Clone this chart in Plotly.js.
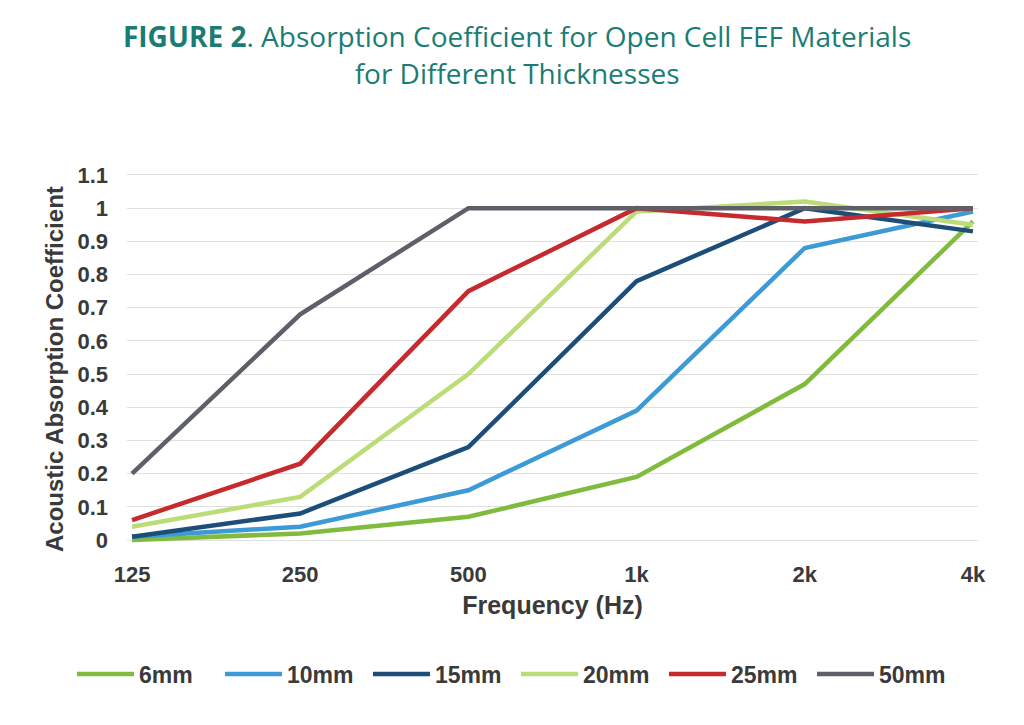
<!DOCTYPE html>
<html>
<head>
<meta charset="utf-8">
<script src="https://cdn.plot.ly/plotly-3.0.1.min.js"></script>
<style>
  html, body { margin: 0; padding: 0; background: #fff; }
  #chart { width: 1024px; height: 725px; }
</style>
</head>
<body>
<div id="chart"></div>
<script>
const frequencies = ["125", "250", "500", "1k", "2k", "4k"];

const thicknesses = ["6mm", "10mm", "15mm", "20mm", "25mm", "50mm"];

const abs6mm  = [0.00, 0.02, 0.07, 0.19, 0.47, 0.96];
const abs10mm = [0.01, 0.04, 0.15, 0.39, 0.88, 0.99];
const abs15mm = [0.01, 0.08, 0.28, 0.78, 1.00, 0.93];
const abs20mm = [0.04, 0.13, 0.50, 0.99, 1.02, 0.95];
const abs25mm = [0.06, 0.23, 0.75, 1.00, 0.96, 1.00];
const abs50mm = [0.20, 0.68, 1.00, 1.00, 1.00, 1.00];

const yTicks = [0, 0.1, 0.2, 0.3, 0.4, 0.5, 0.6, 0.7, 0.8, 0.9, 1, 1.1];

const series = [abs6mm, abs10mm, abs15mm, abs20mm, abs25mm, abs50mm];
const colors = ["#80bb3d", "#3c9ad6", "#1d4e7a", "#bcdc78", "#c62a2e", "#5e6069"];

const FONT = "Liberation Sans, Arial, sans-serif";
const INK = "#3a3a3a";

const traces = series.map((vals, i) => ({
  x: frequencies,
  y: vals,
  type: "scatter",
  mode: "lines",
  name: thicknesses[i],
  line: { color: colors[i], width: 4.5 }
}));

const layout = {
  width: 1024,
  height: 725,
  paper_bgcolor: "#ffffff",
  plot_bgcolor: "#ffffff",
  margin: { l: 127, r: 46, t: 170, b: 180 },
  title: {
    text: "<b>FIGURE 2</b>. Absorption Coefficient for Open Cell FEF Materials<br>for Different Thicknesses",
    x: 0.505,
    xanchor: "center",
    y: 0.935,
    yanchor: "top",
    yref: "container",
    font: { family: "Open Sans, sans-serif", size: 28, color: "#1a7d74" }
  },
  xaxis: {
    type: "category",
    range: [-0.03, 5.03],
    showgrid: false,
    zeroline: false,
    showline: false,
    ticks: "",
    ticklabelstandoff: 14,
    tickfont: { family: FONT, size: 22, color: INK, weight: "bold" },
    title: {
      text: "Frequency (Hz)",
      standoff: 10,
      font: { family: FONT, size: 25, color: INK, weight: "bold" }
    },
    fixedrange: true
  },
  yaxis: {
    range: [-0.015, 1.115],
    tickvals: yTicks,
    ticktext: yTicks.map(v => String(v)),
    showgrid: true,
    gridcolor: "#e0e0e0",
    gridwidth: 1,
    zeroline: false,
    showline: false,
    ticks: "",
    ticklabelstandoff: 18,
    tickfont: { family: FONT, size: 22, color: INK, weight: "bold" },
    fixedrange: true
  },
  annotations: [{
    text: "Acoustic Absorption Coefficient",
    textangle: -90,
    xref: "paper",
    yref: "paper",
    x: (54 - 127) / 851,
    y: (545 - 369) / 375,
    xanchor: "center",
    yanchor: "middle",
    showarrow: false,
    font: { family: FONT, size: 24, color: INK, weight: "bold" }
  }],
  showlegend: true,
  legend: {
    orientation: "h",
    xref: "paper",
    yref: "paper",
    x: (72 - 127) / 851,
    xanchor: "left",
    y: -0.344,
    yanchor: "middle",
    itemwidth: 57,
    entrywidth: 76,
    entrywidthmode: "pixels",
    font: { family: FONT, size: 23, color: INK, weight: "bold" },
    bgcolor: "rgba(0,0,0,0)"
  }
};

Plotly.newPlot("chart", traces, layout, { displayModeBar: false, staticPlot: true });
</script>
</body>
</html>
